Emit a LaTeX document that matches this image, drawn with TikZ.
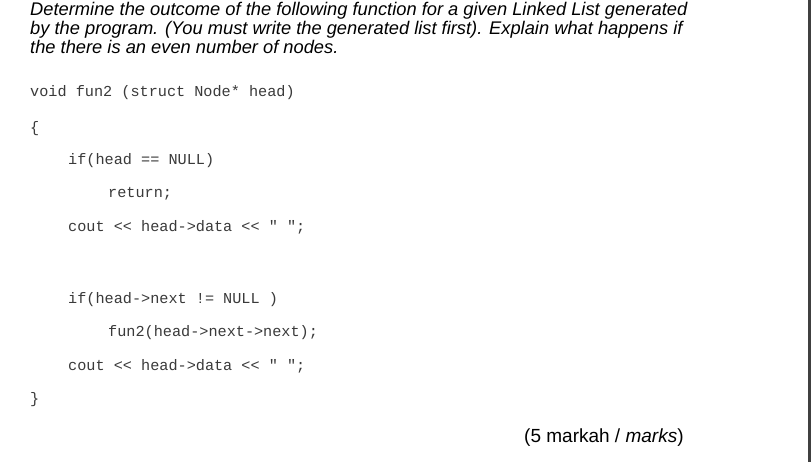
\documentclass[tikz,border=0pt]{standalone}
\usepackage{fontspec}
\setmainfont{Liberation Sans}
\setmonofont{Liberation Mono}
\definecolor{codegray}{HTML}{3A3A3A}
\begin{document}
\begin{tikzpicture}[x=1pt,y=-1pt,
  title/.style={anchor=base west,inner sep=0pt,font=\fontsize{18.3}{21}\selectfont\itshape},
  code/.style={anchor=base west,inner sep=0pt,text=codegray,font=\fontsize{15.2}{17}\selectfont\ttfamily}]
\useasboundingbox (0,0) rectangle (811,462);
\fill[white] (0,0) rectangle (811,462);
\fill[black!75] (808,0) rectangle (811,462);
\node[title] (t1) at (30,16) {Determine the outcome of the following function for a given Linked List generated};
\node[title] (t2) at (30,35) {by the program. (You must write the generated list first). Explain what happens if};
\node[title] (t3) at (30,54) {the there is an even number of nodes.};
\node[code] (c1) at (30,97) {void fun2 (struct Node* head)};
\node[code] (c2) at (30,133) {\{};
\node[code] (c3) at (68,165) {if(head == NULL)};
\node[code] (c4) at (108,198) {return;};
\node[code] (c5) at (68,232) {cout << head->data << " ";};
\node[code] (c6) at (68,303) {if(head->next != NULL )};
\node[code] (c7) at (108,336) {fun2(head->next->next);};
\node[code] (c8) at (68,370) {cout << head->data << " ";};
\node[code] (c9) at (30,403) {\}};
\node[anchor=base west,inner sep=0pt,font=\fontsize{19}{21}\selectfont] (m) at (524,442) {(5 markah / \textit{marks})};
\end{tikzpicture}
\end{document}
